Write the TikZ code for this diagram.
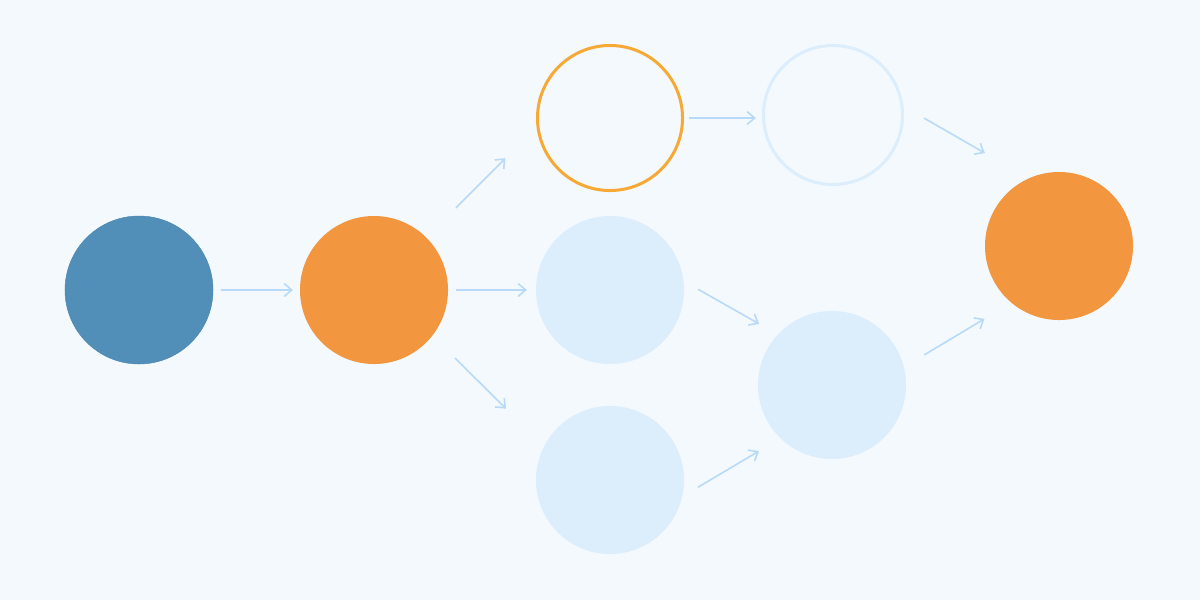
\documentclass[tikz,border=0pt]{standalone}
\usetikzlibrary{arrows.meta}
\definecolor{fond}{HTML}{F4F9FE}
\definecolor{bleu}{HTML}{528FB8}
\definecolor{bleufonce}{HTML}{4A86B0}
\definecolor{orange}{HTML}{F2973F}
\definecolor{jaune}{HTML}{F7A936}
\definecolor{pale}{HTML}{DCEDFC}
\definecolor{trait}{HTML}{B8DAF8}
\begin{document}
\begin{tikzpicture}[x=0.025cm, y=-0.025cm]
\tikzset{rond/.style={circle, inner sep=0pt, outer sep=0pt, minimum size=3.7cm},
  fleche/.style={draw=trait, line width=0.04cm, -{Straight Barb[length=0.19cm, width=0.32cm]}}}
\useasboundingbox (0,0) rectangle (1200,600);
\fill[fond] (0,0) rectangle (1200,600);
\node[rond, fill=bleu, draw=bleufonce, line width=0.3pt] (S1) at (139,290) {};
\node[rond, fill=orange] (S2) at (374,290) {};
\node[rond, draw=jaune, line width=0.075cm, minimum size=3.625cm] (S3) at (610,118) {};
\node[rond, fill=pale] (S4) at (610,290) {};
\node[rond, fill=pale] (S5) at (610,480) {};
\node[rond, draw=pale, line width=0.075cm, minimum size=3.475cm] (S6) at (833,115) {};
\node[rond, fill=pale] (S7) at (832,385) {};
\node[rond, fill=orange] (S8) at (1059,246) {};
\draw[fleche, shorten <=0.2cm, shorten >=0.175cm] (S1) -- (S2);
\draw[fleche, shorten <=1.05cm, shorten >=1.15cm] (S2.45) -- (S3.186);
\draw[fleche, shorten <=0.2cm, shorten >=0.225cm] (S2) -- (S4);
\draw[fleche, shorten <=0.8cm, shorten >=1.34cm] (S2.-38) -- (S5.153);
\draw[fleche, shorten <=0.16cm, shorten >=0.19cm] (S3.east) -- (S3.east -| S6.west);
\draw[fleche, shorten <=0.42cm, shorten >=0.54cm] (S4.7) -- (S7.137);
\draw[fleche, shorten <=0.46cm, shorten >=0.63cm] (S5.-13) -- (S7.226);
\draw[fleche, shorten <=0.64cm, shorten >=1.27cm] (S6.8) -- (S8.114);
\draw[fleche, shorten <=0.59cm, shorten >=0.785cm] (S7.14) -- (S8.230);
\end{tikzpicture}
\end{document}
